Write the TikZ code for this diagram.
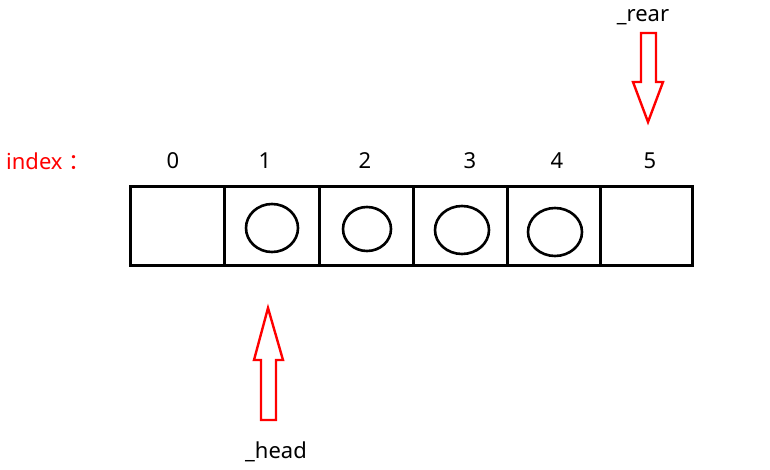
\documentclass[tikz,border=0pt]{standalone}
\usepackage{fontspec}
\setmainfont{Noto Sans}
\newfontfamily\cjk{Noto Sans CJK SC}
\begin{document}
\begin{tikzpicture}[x=1pt,y=-1pt,
  lbl/.style={font=\fontsize{22}{26}\selectfont,inner sep=0pt},
  harrow/.style={draw=red,line width=2.4pt,fill=white,line join=miter}]
\useasboundingbox (0,0) rectangle (770,470);
\foreach \i/\a/\b in {0/130/224,1/224/319,2/319/413,3/413/507,4/507/600,5/600/692}{
  \node[draw=black,line width=3pt,inner sep=0pt,minimum height=78pt,minimum width={\b-\a}] (c\i) at ({(\a+\b)/2},226) {};
}
\draw[black,line width=2.6pt] (272,228) ellipse (26 and 24);
\draw[black,line width=2.6pt] (367,229) ellipse (24 and 22);
\draw[black,line width=2.6pt] (462,230) ellipse (27 and 24);
\draw[black,line width=2.6pt] (555,232) ellipse (27 and 24);
\node[lbl,text=red,anchor=west] (idx) at (6,161) {index {\cjk ：}};
\foreach \i/\x in {0/173,1/265,2/365,3/470,4/557,5/650}{
  \node[lbl] (n\i) at (\x,161) {\i};
}
\node[lbl] (rear) at (643,17) {\_rear};
\node[lbl] (head) at (276,452) {\_head};
\draw[harrow] (641,33) -- (656,33) -- (656,82) -- (663,82) -- (648,122) -- (633,82) -- (641,82) -- cycle;
\draw[harrow] (261,420) -- (276,420) -- (276,360) -- (283,360) -- (268,308) -- (254,360) -- (261,360) -- cycle;
\end{tikzpicture}
\end{document}
